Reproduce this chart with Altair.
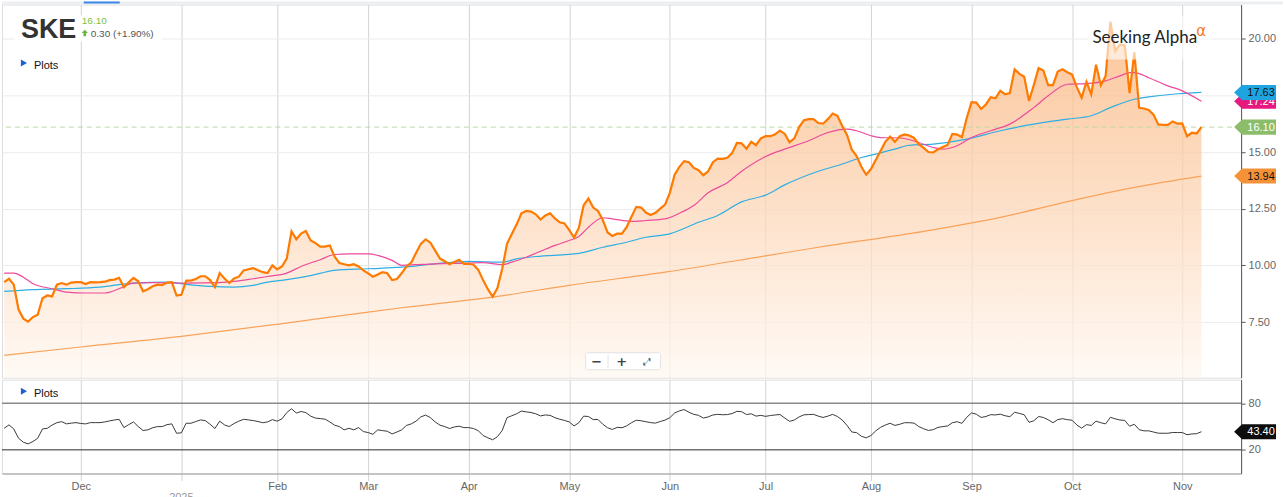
import altair as alt
import pandas as pd

# ---------------- data ----------------
day = list(range(-1, 250))          # trading-day index (0 = ~8 Nov 2024)

price = [
    9.26, 9.41, 9.15, 8.05, 7.65, 7.52, 7.72, 7.82, 8.55, 8.67, 8.63,
    9.15, 9.22, 9.15, 9.24, 9.26, 9.26, 9.18, 9.26, 9.25, 9.26,
    9.28, 9.35, 9.37, 9.45, 9.04, 9.25, 9.45, 9.30, 8.86, 8.95,
    9.08, 9.15, 9.13, 9.24, 9.26, 8.67, 8.70, 9.33, 9.33, 9.40,
    9.52, 9.52, 9.35, 9.04, 9.66, 9.42, 9.22, 9.42, 9.50, 9.78,
    9.83, 9.88, 9.78, 9.70, 9.66, 10.00, 9.82, 9.95, 10.30, 11.50,
    11.15, 11.40, 11.52, 11.10, 10.98, 10.83, 10.83, 10.88, 10.38, 10.10,
    10.05, 10.00, 10.05, 9.95, 9.78, 9.65, 9.50, 9.60, 9.70, 9.65,
    9.35, 9.40, 9.65, 9.95, 10.12, 10.55, 10.95, 11.15, 11.00, 10.65,
    10.30, 10.18, 10.05, 10.15, 10.25, 10.07, 10.07, 10.03, 9.80, 9.35,
    8.95, 8.62, 9.00, 9.85, 10.95, 11.38, 11.80, 12.30, 12.40, 12.37,
    12.25, 12.02, 12.20, 12.30, 12.07, 11.90, 11.85, 11.55, 11.23, 11.65,
    12.65, 12.95, 12.55, 12.40, 12.00, 11.45, 11.30, 11.40, 11.40, 11.70,
    12.15, 12.58, 12.55, 12.33, 12.22, 12.32, 12.50, 12.68, 13.20, 14.00,
    14.35, 14.60, 14.55, 14.30, 14.20, 13.98, 14.15, 14.55, 14.71, 14.70,
    14.75, 14.95, 15.40, 15.38, 15.15, 15.45, 15.30, 15.60, 15.70, 15.70,
    15.78, 15.95, 15.80, 15.43, 15.60, 16.10, 16.40, 16.45, 16.45, 16.28,
    16.25, 16.45, 16.70, 16.60, 16.15, 15.75, 15.10, 14.82, 14.35, 14.00,
    14.25, 14.65, 15.05, 15.45, 15.68, 15.45, 15.70, 15.78, 15.73, 15.62,
    15.35, 15.18, 15.00, 14.98, 15.12, 15.22, 15.31, 15.80, 15.77, 15.66,
    16.50, 17.20, 17.18, 16.90, 17.10, 17.42, 17.37, 17.70, 17.55, 17.60,
    18.65, 18.45, 18.32, 17.25, 17.95, 18.70, 18.60, 17.95, 17.95, 18.55,
    18.65, 18.52, 18.42, 17.85, 17.40, 18.10, 17.55, 18.85, 17.95, 18.35,
    20.75, 19.45, 19.75, 19.70, 17.60, 19.40, 16.95, 16.92, 16.86, 16.65,
    16.22, 16.20, 16.20, 16.35, 16.25, 16.26, 15.70, 15.85, 15.82, 16.10,
]

rsi = [
    47.8, 52.2, 47.0, 35.0, 29.8, 27.7, 30.7, 35.0, 47.0, 47.8, 52.0,
    55.0, 56.4, 53.5, 54.5, 55.1, 54.0, 53.5, 55.1, 55.1, 55.1,
    56.0, 57.3, 58.5, 59.4, 48.7, 52.5, 56.0, 50.0, 44.9, 45.8,
    48.5, 50.0, 50.0, 52.5, 53.5, 41.4, 42.0, 54.3, 54.3, 56.5,
    58.6, 57.7, 53.0, 47.5, 57.0, 52.2, 50.0, 54.0, 57.0, 59.4,
    58.6, 57.8, 56.5, 55.0, 56.0, 59.0, 57.0, 60.0, 68.0, 73.0,
    67.5, 69.5, 68.0, 63.5, 61.0, 60.3, 59.6, 56.0, 51.8, 50.0,
    45.8, 47.8, 45.8, 48.7, 43.6, 42.3, 40.1, 45.8, 44.8, 44.0,
    40.5, 43.0, 45.8, 51.5, 53.5, 57.0, 62.5, 64.8, 61.5, 56.0,
    51.8, 50.0, 47.5, 49.5, 50.5, 48.7, 48.7, 47.5, 44.7, 38.5,
    35.5, 33.0, 37.0, 45.0, 61.5, 64.0, 66.5, 70.0, 69.0, 68.2,
    66.5, 63.8, 65.0, 64.5, 61.5, 59.5, 58.0, 56.0, 50.8, 55.0,
    63.5, 63.0, 59.0, 59.2, 53.0, 48.5, 46.3, 49.0, 48.5, 51.0,
    55.0, 58.2, 57.5, 56.3, 55.1, 54.5, 56.6, 58.3, 61.5, 67.5,
    70.3, 72.0, 68.5, 65.8, 64.5, 61.0, 62.5, 65.0, 65.8, 65.3,
    65.5, 66.8, 69.7, 69.2, 65.6, 66.5, 63.5, 64.5, 63.2, 64.3,
    65.0, 65.6, 61.0, 56.8, 58.5, 62.5, 65.2, 65.5, 65.8, 63.5,
    61.8, 63.5, 65.8, 63.0, 58.5, 51.5, 43.0, 42.2, 37.5, 35.5,
    38.5, 44.5, 49.0, 52.0, 54.3, 51.5, 53.0, 55.0, 55.0, 54.5,
    50.0, 47.2, 45.0, 46.0, 49.0, 50.0, 50.8, 55.0, 56.3, 54.2,
    62.0, 67.6, 66.0, 61.8, 63.0, 65.4, 65.0, 66.0, 64.0, 62.8,
    68.5, 67.0, 65.3, 55.5, 57.5, 63.0, 61.8, 58.8, 55.0, 59.0,
    60.2, 59.0, 58.2, 52.0, 48.0, 52.5, 51.5, 57.0, 55.0, 53.5,
    62.0, 60.0, 58.5, 58.0, 50.5, 53.0, 46.0, 44.5, 44.5, 43.0,
    41.5, 41.4, 41.4, 42.4, 42.3, 42.3, 39.5, 40.5, 40.8, 43.4,
]

ma50_day = [-1, 1, 3, 5, 9, 12, 16, 20, 23, 26, 30, 37, 44, 47, 51, 54, 58, 61, 65, 68,
            71, 75, 77, 80, 82, 85, 89, 96, 99, 103, 105, 108, 111, 114, 117, 119, 121,
            124, 126, 130, 133, 137, 140, 143, 146, 150, 153, 158, 162, 167, 171, 175,
            177, 180, 182, 186, 190, 193, 195, 198, 201, 205, 209, 214, 217, 221, 225,
            229, 232, 234, 235, 238, 242, 245, 249]
ma50_val = [9.66, 9.66, 9.48, 9.19, 8.97, 8.82, 8.78, 8.78, 8.97, 9.22, 9.24, 9.22, 9.24,
            9.29, 9.41, 9.51, 9.66, 9.95, 10.25, 10.48, 10.51, 10.51, 10.44, 10.22, 10.00,
            10.03, 10.07, 10.10, 10.12, 10.03, 10.14, 10.36, 10.62, 10.88, 11.10, 11.27,
            11.68, 12.10, 12.05, 11.94, 11.98, 12.05, 12.30, 12.64, 13.20, 13.65, 14.15,
            14.80, 15.13, 15.50, 15.86, 16.01, 15.94, 15.72, 15.64, 15.62, 15.42, 15.20,
            15.13, 15.28, 15.64, 15.94, 16.23, 16.96, 17.48, 17.99, 18.02, 18.14, 18.36,
            18.50, 18.50, 18.28, 17.92, 17.70, 17.24]

ma100_day = [-1, 5, 12, 19, 26, 33, 37, 42, 47, 51, 54, 58, 63, 68, 75, 82, 89, 96, 99,
             103, 106, 110, 119, 124, 129, 133, 138, 144, 148, 153, 158, 162, 169, 174,
             178, 181, 185, 188, 193, 200, 207, 214, 221, 226, 230, 235, 238, 243, 249]
ma100_val = [8.85, 8.93, 8.97, 9.04, 9.22, 9.26, 9.16, 9.07, 9.04, 9.12, 9.26, 9.37, 9.55,
             9.78, 9.85, 9.92, 10.07, 10.18, 10.16, 10.14, 10.29, 10.39, 10.53, 10.80,
             11.02, 11.24, 11.39, 11.90, 12.20, 12.80, 13.10, 13.55, 14.15, 14.47, 14.76,
             14.91, 15.13, 15.30, 15.35, 15.57, 15.94, 16.23, 16.45, 16.60, 16.96, 17.33,
             17.43, 17.55, 17.63]

ma200_day = [-1, 15, 36, 56, 75, 82, 102, 117, 137, 158, 169, 191, 207, 222, 235, 249]
ma200_val = [6.03, 6.40, 6.87, 7.40, 7.94, 8.13, 8.63, 9.12, 9.70, 10.42, 10.80, 11.50,
             12.12, 12.86, 13.44, 13.94]

month_idx = [15, 36, 56, 75, 96, 117, 138, 158, 180, 201, 222, 245]
month_lbl = ["Dec", "", "Feb", "Mar", "Apr", "May", "Jun", "Jul", "Aug", "Sep", "Oct", "Nov"]
year_lbl = "2025"
price_ticks = [7.5, 10, 12.5, 15, 17.5, 20]
rsi_ticks = [20, 80]

ticker = "SKE"
last_quote = "16.10"
change_txt = "0.30 (+1.90%)"

# ---------------- frames ----------------
n = min(len(day), len(price), len(rsi))
price_df = pd.DataFrame({"d": day[:n], "v": price[:n]})
rsi_df = pd.DataFrame({"d": day[:n], "r": rsi[:n]})
ma50_df = pd.DataFrame({"d": ma50_day, "v": ma50_val})
ma100_df = pd.DataFrame({"d": ma100_day, "v": ma100_val})
ma200_df = pd.DataFrame({"d": ma200_day, "v": ma200_val})
one = pd.DataFrame({"k": [0]})

# ---------------- scales / encodings ----------------
W = 1242
H_TOP = 374
H_BOT = 94
x_lo, x_hi = -7 / 4.8, (W - 7) / 4.8
y_hi = 20 + 34.2 / 22.72
y_lo = y_hi - H_TOP / 22.72
FONT = "Liberation Sans"

xscale = alt.Scale(domain=[x_lo, x_hi], nice=False, zero=False)
X_top = alt.X("d:Q", scale=xscale, title=None,
              axis=alt.Axis(values=month_idx, labels=False, ticks=False, domain=False,
                            grid=True, gridColor="#d3d3d3", gridWidth=1))
lbl_expr = "[" + ",".join("'%s'" % m for m in month_lbl) + "][indexof([" + \
    ",".join(str(i) for i in month_idx) + "], datum.value)]"
X_bot = alt.X("d:Q", scale=xscale, title=None,
              axis=alt.Axis(values=month_idx, labelExpr=lbl_expr, grid=True,
                            gridColor="#d3d3d3", ticks=True, tickSize=7, tickColor="#d3d3d3",
                            domain=True, domainColor="#9a9a9a", labelPadding=0,
                            labelFont=FONT, labelFontSize=11, labelColor="#666666"))
Y_top = alt.Y("v:Q", scale=alt.Scale(domain=[y_lo, y_hi], nice=False, zero=False), title=None,
              axis=alt.Axis(orient="right", values=price_ticks,
                            labelExpr="datum.value == 17.5 ? '' : format(datum.value, '.2f')",
                            grid=True, gridColor="#ebebeb", tickSize=4, tickColor="#555555",
                            domainColor="#555555", labelFont=FONT, labelFontSize=11,
                            labelColor="#666666", labelPadding=3))
Y_bot = alt.Y("r:Q", scale=alt.Scale(domain=[-10.5, 110.5], nice=False, zero=False), title=None,
              axis=alt.Axis(orient="right", values=rsi_ticks, grid=False, tickSize=4,
                            tickColor="#555555", domainColor="#555555", labelFont=FONT,
                            labelFontSize=11, labelColor="#666666", labelPadding=3))

TAG = "M -1 0 L -0.62 -0.36 L 1 -0.36 L 1 0.36 L -0.62 0.36 Z"
UP_ARROW = "M 0 -1 L 1 0 L 0.42 0 L 0.42 1 L -0.42 1 L -0.42 0 L -1 0 Z"


def tag(value, fill, txt_color, yenc, field):
    df = pd.DataFrame({field: [value], "t": ["%.2f" % value]})
    shape = alt.Chart(df).mark_point(shape=TAG, size=1764, filled=True, opacity=1,
                                     color=fill, strokeWidth=0).encode(
        x=alt.value(1256), y=yenc)
    text = alt.Chart(df).mark_text(font=FONT, fontSize=11, color=txt_color, align="center",
                                   baseline="middle", dy=0.5).encode(
        x=alt.value(1262), y=yenc, text="t:N")
    return [shape, text]


def label(txt, x, y, **kw):
    return alt.Chart(one).mark_text(**kw).encode(x=alt.value(x), y=alt.value(y),
                                                 text=alt.value(txt))


def box(x1, x2, y1, y2, **kw):
    return alt.Chart(one).mark_rect(**kw).encode(x=alt.value(x1), x2=alt.value(x2),
                                                 y=alt.value(y1), y2=alt.value(y2))


grad = alt.Gradient(gradient="linear",
                    stops=[alt.GradientStop(color="#fab278", offset=0),
                           alt.GradientStop(color="#fff8f2", offset=1)],
                    x1=1, x2=1, y1=0, y2=1)

area = alt.Chart(price_df).mark_area(color=grad, opacity=0.75, clip=True).encode(
    x=X_top, y=Y_top, y2=alt.Y2Datum(y_lo))
last_line = alt.Chart(pd.DataFrame({"v": [price[n - 1]]})).mark_rule(
    color="#bcd9a6", strokeDash=[5, 4], strokeWidth=1).encode(y=Y_top)
l200 = alt.Chart(ma200_df).mark_line(color="#f8a25a", strokeWidth=1.2,
                                     interpolate="monotone", clip=True).encode(x=X_top, y=Y_top)
l100 = alt.Chart(ma100_df).mark_line(color="#2eaee3", strokeWidth=1.2,
                                     interpolate="monotone", clip=True).encode(x=X_top, y=Y_top)
l50 = alt.Chart(ma50_df).mark_line(color="#ec4a9c", strokeWidth=1.2,
                                   interpolate="monotone", clip=True).encode(x=X_top, y=Y_top)
lp = alt.Chart(price_df).mark_line(color="#ff7a00", strokeWidth=2.2, clip=True).encode(
    x=X_top, y=Y_top)

top_layers = [area, last_line, l200, l100, l50, lp]

# watermark
top_layers += [
    box(1088, 1212, 12, 55, color="white", opacity=0.6),
    label("Seeking Alpha", 1093, 39, font="Lato", fontSize=17, color="#222222",
          align="left", baseline="alphabetic"),
    label("\u03b1", 1197, 31, font="DejaVu Sans", fontSize=15, color="#f47c20",
          align="left", baseline="alphabetic"),
]
# header
top_layers += [
    box(0, 1284, -3, 0, color="#eceef1"),
    box(82, 118, -3, -1, color="#3b86e6"),
    box(13, 160, 11, 37, color="white"),
    label(ticker, 19, 33.5, font=FONT, fontSize=27, fontWeight="bold", color="#333333",
          align="left", baseline="alphabetic"),
    label(last_quote, 80, 19, font=FONT, fontSize=10, color="#7dc242", align="left",
          baseline="alphabetic"),
    alt.Chart(one).mark_point(shape=UP_ARROW, size=40, filled=True, opacity=1,
                              strokeWidth=0, color="#6cb33f").encode(
        x=alt.value(83), y=alt.value(28.5)),
    label(change_txt, 89, 32, font=FONT, fontSize=10, color="#555555", align="left",
          baseline="alphabetic"),
    alt.Chart(one).mark_point(shape="triangle-right", size=50, filled=True, opacity=1,
                              color="#1f5fd1").encode(x=alt.value(22), y=alt.value(58.5)),
    label("Plots", 32, 65, font=FONT, fontSize=11, color="#111111", align="left",
          baseline="alphabetic"),
]
# zoom control
top_layers += [
    box(585, 660, 349, 366, color="white", stroke="#e3e3e3", strokeWidth=1,
        cornerRadius=2),
    box(607, 608, 351, 364, color="#e3e3e3"),
    label("\u2212", 596, 358, font="DejaVu Sans", fontSize=13, fontWeight="bold",
          color="#444444", align="center", baseline="middle"),
    label("+", 621, 358, font="DejaVu Sans", fontSize=13, fontWeight="bold",
          color="#444444", align="center", baseline="middle"),
    label("\u2922", 647, 358, font="DejaVu Sans", fontSize=10, color="#444444",
          align="center", baseline="middle"),
]
# right-side tags (pink under blue)
top_layers += tag(ma50_val[-1], "#e6197f", "white", Y_top, "v")
top_layers += tag(ma100_val[-1], "#1ea5e0", "#111111", Y_top, "v")
top_layers += tag(price[n - 1], "#8cbd6a", "white", Y_top, "v")
top_layers += tag(ma200_val[-1], "#f4923a", "#111111", Y_top, "v")

top = alt.layer(*top_layers).properties(width=W, height=H_TOP)

# ---------------- bottom (RSI) panel ----------------
r80 = alt.Chart(pd.DataFrame({"r": [rsi_ticks[1]]})).mark_rule(
    color="#8a8a8a", strokeWidth=1.5).encode(y=Y_bot)
r20 = alt.Chart(pd.DataFrame({"r": [rsi_ticks[0]]})).mark_rule(
    color="#2a2a2a", strokeWidth=1).encode(y=Y_bot)
rl = alt.Chart(rsi_df).mark_line(color="#3a3a3a", strokeWidth=1, clip=True).encode(
    x=X_bot, y=Y_bot)
yr = alt.Chart(pd.DataFrame({"d": [month_idx[1]]})).mark_text(
    font=FONT, fontSize=11, color="#999999", align="center", baseline="top").encode(
    x=X_bot, y=alt.value(113), text=alt.value(year_lbl))

bot_layers = [r80, r20, rl, yr,
              alt.Chart(one).mark_point(shape="triangle-right", size=50, filled=True,
                                        opacity=1, color="#1f5fd1").encode(
                  x=alt.value(22), y=alt.value(11.5)),
              label("Plots", 32, 17, font=FONT, fontSize=11, color="#111111",
                    align="left", baseline="alphabetic")]
bot_layers += tag(rsi[n - 1], "#0d0d0d", "white", Y_bot, "r")

bottom = alt.layer(*bot_layers).properties(width=W, height=H_BOT)

chart = alt.vconcat(top, bottom, spacing=0).properties(
    padding={"left": 0, "top": 0, "right": 0, "bottom": 0}, background="white"
).configure_view(stroke="#dedede", strokeWidth=1)

chart.save("out.html", embed_options={"renderer": "svg", "actions": False})
